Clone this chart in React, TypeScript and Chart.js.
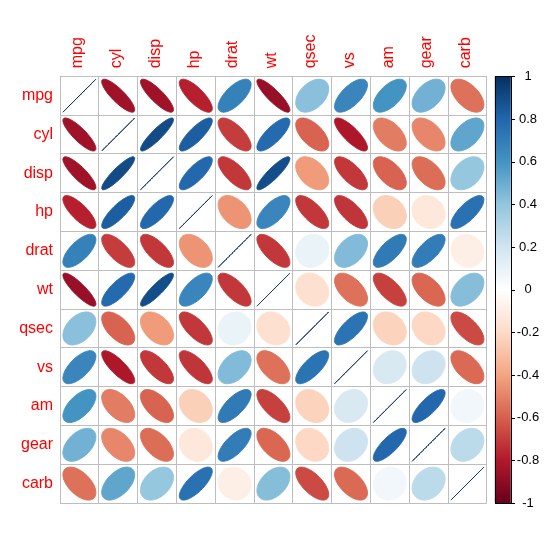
import React, { useEffect, useRef } from "react";
import { Chart, registerables } from "chart.js";

Chart.register(...registerables);

const variables = ["mpg", "cyl", "disp", "hp", "drat", "wt", "qsec", "vs", "am", "gear", "carb"];

const corrMpg = [1.0, -0.85, -0.85, -0.78, 0.68, -0.87, 0.42, 0.66, 0.6, 0.48, -0.55];
const corrCyl = [-0.85, 1.0, 0.9, 0.83, -0.7, 0.78, -0.59, -0.81, -0.52, -0.49, 0.53];
const corrDisp = [-0.85, 0.9, 1.0, 0.79, -0.71, 0.89, -0.43, -0.71, -0.59, -0.56, 0.39];
const corrHp = [-0.78, 0.83, 0.79, 1.0, -0.45, 0.66, -0.71, -0.72, -0.24, -0.13, 0.75];
const corrDrat = [0.68, -0.7, -0.71, -0.45, 1.0, -0.71, 0.09, 0.44, 0.71, 0.7, -0.09];
const corrWt = [-0.87, 0.78, 0.89, 0.66, -0.71, 1.0, -0.17, -0.55, -0.69, -0.58, 0.43];
const corrQsec = [0.42, -0.59, -0.43, -0.71, 0.09, -0.17, 1.0, 0.74, -0.23, -0.21, -0.66];
const corrVs = [0.66, -0.81, -0.71, -0.72, 0.44, -0.55, 0.74, 1.0, 0.17, 0.21, -0.57];
const corrAm = [0.6, -0.52, -0.59, -0.24, 0.71, -0.69, -0.23, 0.17, 1.0, 0.79, 0.06];
const corrGear = [0.48, -0.49, -0.56, -0.13, 0.7, -0.58, -0.21, 0.21, 0.79, 1.0, 0.27];
const corrCarb = [-0.55, 0.53, 0.39, 0.75, -0.09, 0.43, -0.66, -0.57, 0.06, 0.27, 1.0];

const corrRows = [corrMpg, corrCyl, corrDisp, corrHp, corrDrat, corrWt, corrQsec, corrVs, corrAm, corrGear, corrCarb];

const colorbarTicks = [-1, -0.8, -0.6, -0.4, -0.2, 0, 0.2, 0.4, 0.6, 0.8, 1];

const paletteStops = [
  "#67001F", "#B2182B", "#D6604D", "#F4A582", "#FDDBC7", "#FFFFFF",
  "#D1E5F0", "#92C5DE", "#4393C3", "#2166AC", "#053061",
];

const FONT = "'Liberation Sans', Arial, sans-serif";

function hexToRgb(h: string) {
  const v = parseInt(h.slice(1), 16);
  return [(v >> 16) & 255, (v >> 8) & 255, v & 255];
}

function colorFor(rho: number) {
  const t = Math.max(0, Math.min(1, (rho + 1) / 2)) * (paletteStops.length - 1);
  const i = Math.min(paletteStops.length - 2, Math.floor(t));
  const f = t - i;
  const a = hexToRgb(paletteStops[i]);
  const b = hexToRgb(paletteStops[i + 1]);
  const c = a.map((v, k) => Math.round(v + (b[k] - v) * f));
  return `rgb(${c[0]},${c[1]},${c[2]})`;
}

const ellipsePlugin = {
  id: "corrEllipses",
  afterDatasetsDraw(chart: any) {
    const meta = chart.getDatasetMeta(0);
    const xs = chart.scales.x;
    const ys = chart.scales.y;
    const cw = xs.width / variables.length;
    const ch = ys.height / variables.length;
    const ctx = chart.ctx;
    const data = chart.data.datasets[0].data;
    ctx.save();
    meta.data.forEach((el: any, k: number) => {
      const rho = data[k].rho;
      const a = Math.acos(Math.max(-1, Math.min(1, rho)));
      ctx.beginPath();
      const n = 99;
      for (let s = 0; s < n; s++) {
        const t = (2 * Math.PI * s) / (n - 1);
        const ex = (0.85 * Math.cos(t + a / 2)) / 2;
        const ey = (0.85 * Math.cos(t - a / 2)) / 2;
        const px = el.x + ex * cw;
        const py = el.y - ey * ch;
        if (s === 0) ctx.moveTo(px, py);
        else ctx.lineTo(px, py);
      }
      ctx.closePath();
      const col = colorFor(rho);
      ctx.fillStyle = col;
      ctx.strokeStyle = col;
      ctx.lineWidth = 1;
      ctx.fill();
      ctx.stroke();
    });
    ctx.restore();
  },
  afterDraw(chart: any) {
    const sc = chart.scales.yc;
    const ctx = chart.ctx;
    const left = sc.left + 8;
    const w = 16;
    const top = sc.getPixelForValue(1);
    const bottom = sc.getPixelForValue(-1);
    ctx.save();
    const g = ctx.createLinearGradient(0, bottom, 0, top);
    paletteStops.forEach((c, i) => g.addColorStop(i / (paletteStops.length - 1), c));
    ctx.fillStyle = g;
    ctx.fillRect(left, top, w, bottom - top);
    ctx.strokeStyle = "#000000";
    ctx.lineWidth = 1;
    ctx.strokeRect(Math.round(left) + 0.5, Math.round(top) + 0.5, w, Math.round(bottom - top));
    ctx.beginPath();
    colorbarTicks.forEach((v) => {
      const y = Math.round(sc.getPixelForValue(v)) + 0.5;
      ctx.moveTo(Math.round(left) + w + 0.5, y);
      ctx.lineTo(Math.round(left) + w + 4, y);
    });
    ctx.stroke();
    ctx.restore();
  },
};

export default function App() {
  const ref = useRef<HTMLCanvasElement | null>(null);

  useEffect(() => {
    if (!ref.current) return;
    const points: any[] = [];
    corrRows.forEach((row, i) => {
      row.forEach((rho, j) => {
        points.push({ x: variables[j], y: variables[i], rho });
      });
    });

    const chart = new Chart(ref.current, {
      type: "scatter",
      data: {
        datasets: [
          {
            data: points,
            pointRadius: 0,
            pointHoverRadius: 0,
          },
        ],
      },
      options: {
        animation: false,
        responsive: true,
        maintainAspectRatio: false,
        layout: { padding: { top: 0, left: 0, right: 0, bottom: 49 } },
        plugins: {
          legend: { display: false },
          tooltip: { enabled: false },
        },
        scales: {
          x: {
            type: "category",
            labels: variables,
            position: "top",
            offset: true,
            grid: { offset: true, color: "#BEBEBE", drawTicks: false, lineWidth: 1 },
            border: { display: true, color: "#BEBEBE" },
            ticks: {
              color: "#FF0000",
              font: { family: FONT, size: 16, lineHeight: 1.2 },
              minRotation: 90,
              maxRotation: 90,
              padding: 8,
              labelOffset: 17.5,
              autoSkip: false,
            },
            afterFit: (s: any) => {
              s.height = 76.3;
            },
          },
          y: {
            type: "category",
            labels: variables,
            position: "left",
            offset: true,
            grid: { offset: true, color: "#BEBEBE", drawTicks: false, lineWidth: 1 },
            border: { display: true, color: "#BEBEBE" },
            ticks: {
              color: "#FF0000",
              font: { family: FONT, size: 16 },
              padding: 7,
              autoSkip: false,
            },
            afterFit: (s: any) => {
              s.width = 60;
            },
          },
          yc: {
            type: "linear",
            position: "right",
            min: -1,
            max: 1,
            grid: { display: false, drawTicks: false },
            border: { display: false },
            afterBuildTicks: (s: any) => {
              s.ticks = colorbarTicks.map((v) => ({ value: v }));
            },
            ticks: {
              color: "#000000",
              font: { family: FONT, size: 13 },
              padding: 30,
              crossAlign: "center",
              autoSkip: false,
              callback: (v: any) => String(v),
            },
            afterFit: (s: any) => {
              s.width = 65.2;
            },
          },
        },
      } as any,
      plugins: [ellipsePlugin],
    });
    return () => chart.destroy();
  }, []);

  return (
    <div style={{ position: "absolute", left: 0, top: 0, width: 552, height: 552, background: "#ffffff" }}>
      <canvas ref={ref} />
    </div>
  );
}
